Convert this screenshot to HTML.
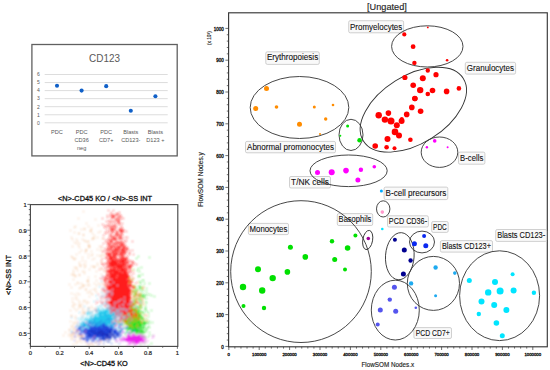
<!DOCTYPE html><html><head><meta charset="utf-8"><style>html,body{margin:0;padding:0;background:#fff;width:550px;height:370px;overflow:hidden}svg{display:block}text{font-family:"Liberation Sans",sans-serif}</style></head><body>
<svg width="550" height="370" viewBox="0 0 550 370">
<rect width="550" height="370" fill="#fff"/>
<rect x="31.9" y="44.5" width="145.3" height="111.4" fill="#fff" stroke="#606060" stroke-width="1.3"/>
<text x="89.1" y="61.8" font-size="10.6" fill="#595959" textLength="30.9" lengthAdjust="spacingAndGlyphs">CD123</text>
<line x1="44.7" x2="167.7" y1="122.80" y2="122.80" stroke="#d9d9d9" stroke-width="0.9"/>
<text x="38.4" y="124.60" font-size="5" fill="#595959" text-anchor="middle">0</text>
<line x1="44.7" x2="167.7" y1="114.75" y2="114.75" stroke="#d9d9d9" stroke-width="0.9"/>
<text x="38.4" y="116.55" font-size="5" fill="#595959" text-anchor="middle">1</text>
<line x1="44.7" x2="167.7" y1="106.70" y2="106.70" stroke="#d9d9d9" stroke-width="0.9"/>
<text x="38.4" y="108.50" font-size="5" fill="#595959" text-anchor="middle">2</text>
<line x1="44.7" x2="167.7" y1="98.65" y2="98.65" stroke="#d9d9d9" stroke-width="0.9"/>
<text x="38.4" y="100.45" font-size="5" fill="#595959" text-anchor="middle">3</text>
<line x1="44.7" x2="167.7" y1="90.60" y2="90.60" stroke="#d9d9d9" stroke-width="0.9"/>
<text x="38.4" y="92.40" font-size="5" fill="#595959" text-anchor="middle">4</text>
<line x1="44.7" x2="167.7" y1="82.55" y2="82.55" stroke="#d9d9d9" stroke-width="0.9"/>
<text x="38.4" y="84.35" font-size="5" fill="#595959" text-anchor="middle">5</text>
<line x1="44.7" x2="167.7" y1="74.50" y2="74.50" stroke="#d9d9d9" stroke-width="0.9"/>
<text x="38.4" y="76.30" font-size="5" fill="#595959" text-anchor="middle">6</text>
<circle cx="57.00" cy="85.77" r="2.05" fill="#1060c8"/>
<text x="57.00" y="134.00" font-size="5.6" fill="#595959" text-anchor="middle">PDC</text>
<circle cx="81.60" cy="90.60" r="2.05" fill="#1060c8"/>
<text x="81.60" y="134.00" font-size="5.6" fill="#595959" text-anchor="middle">PDC</text>
<text x="81.60" y="142.00" font-size="5.6" fill="#595959" text-anchor="middle">CD36</text>
<text x="81.60" y="150.00" font-size="5.6" fill="#595959" text-anchor="middle">neg</text>
<circle cx="106.20" cy="86.17" r="2.05" fill="#1060c8"/>
<text x="106.20" y="134.00" font-size="5.6" fill="#595959" text-anchor="middle">PDC</text>
<text x="106.20" y="142.00" font-size="5.6" fill="#595959" text-anchor="middle">CD7+</text>
<circle cx="130.80" cy="110.72" r="2.05" fill="#1060c8"/>
<text x="130.80" y="134.00" font-size="5.6" fill="#595959" text-anchor="middle">Blasts</text>
<text x="130.80" y="142.00" font-size="5.6" fill="#595959" text-anchor="middle">CD123-</text>
<circle cx="155.40" cy="96.23" r="2.05" fill="#1060c8"/>
<text x="155.40" y="134.00" font-size="5.6" fill="#595959" text-anchor="middle">Blasts</text>
<text x="155.40" y="142.00" font-size="5.6" fill="#595959" text-anchor="middle">D123 +</text>
<text x="367" y="9.5" font-size="9.8" fill="#222" stroke="#222" stroke-width="0.15" textLength="39.8" lengthAdjust="spacingAndGlyphs">[Ungated]</text>
<path d="M228.80 346.80v3.2M234.88 346.80v1.8M240.96 346.80v1.8M247.04 346.80v1.8M253.12 346.80v1.8M259.20 346.80v3.2M265.28 346.80v1.8M271.36 346.80v1.8M277.44 346.80v1.8M283.52 346.80v1.8M289.60 346.80v3.2M295.68 346.80v1.8M301.76 346.80v1.8M307.84 346.80v1.8M313.92 346.80v1.8M320.00 346.80v3.2M326.08 346.80v1.8M332.16 346.80v1.8M338.24 346.80v1.8M344.32 346.80v1.8M350.40 346.80v3.2M356.48 346.80v1.8M362.56 346.80v1.8M368.64 346.80v1.8M374.72 346.80v1.8M380.80 346.80v3.2M386.88 346.80v1.8M392.96 346.80v1.8M399.04 346.80v1.8M405.12 346.80v1.8M411.20 346.80v3.2M417.28 346.80v1.8M423.36 346.80v1.8M429.44 346.80v1.8M435.52 346.80v1.8M441.60 346.80v3.2M447.68 346.80v1.8M453.76 346.80v1.8M459.84 346.80v1.8M465.92 346.80v1.8M472.00 346.80v3.2M478.08 346.80v1.8M484.16 346.80v1.8M490.24 346.80v1.8M496.32 346.80v1.8M502.40 346.80v3.2M508.48 346.80v1.8M514.56 346.80v1.8M520.64 346.80v1.8M526.72 346.80v1.8M532.80 346.80v3.2M228.60 346.40h-3.2M228.60 340.04h-1.8M228.60 333.68h-1.8M228.60 327.32h-1.8M228.60 320.96h-1.8M228.60 314.60h-3.2M228.60 308.24h-1.8M228.60 301.88h-1.8M228.60 295.52h-1.8M228.60 289.16h-1.8M228.60 282.80h-3.2M228.60 276.44h-1.8M228.60 270.08h-1.8M228.60 263.72h-1.8M228.60 257.36h-1.8M228.60 251.00h-3.2M228.60 244.64h-1.8M228.60 238.28h-1.8M228.60 231.92h-1.8M228.60 225.56h-1.8M228.60 219.20h-3.2M228.60 212.84h-1.8M228.60 206.48h-1.8M228.60 200.12h-1.8M228.60 193.76h-1.8M228.60 187.40h-3.2M228.60 181.04h-1.8M228.60 174.68h-1.8M228.60 168.32h-1.8M228.60 161.96h-1.8M228.60 155.60h-3.2M228.60 149.24h-1.8M228.60 142.88h-1.8M228.60 136.52h-1.8M228.60 130.16h-1.8M228.60 123.80h-3.2M228.60 117.44h-1.8M228.60 111.08h-1.8M228.60 104.72h-1.8M228.60 98.36h-1.8M228.60 92.00h-3.2M228.60 85.64h-1.8M228.60 79.28h-1.8M228.60 72.92h-1.8M228.60 66.56h-1.8M228.60 60.20h-3.2M228.60 53.84h-1.8M228.60 47.48h-1.8M228.60 41.12h-1.8M228.60 34.76h-1.8M228.60 28.40h-3.2" stroke="#333" stroke-width="0.7" fill="none"/>
<rect x="228.6" y="12.8" width="318.70" height="334.00" fill="none" stroke="#383838" stroke-width="1.15"/>
<text x="228.80" y="355.6" font-size="4.3" fill="#111" stroke="#111" stroke-width="0.3" text-anchor="middle">0</text>
<text x="259.20" y="355.6" font-size="4.3" fill="#111" stroke="#111" stroke-width="0.3" text-anchor="middle">100000</text>
<text x="289.60" y="355.6" font-size="4.3" fill="#111" stroke="#111" stroke-width="0.3" text-anchor="middle">200000</text>
<text x="320.00" y="355.6" font-size="4.3" fill="#111" stroke="#111" stroke-width="0.3" text-anchor="middle">300000</text>
<text x="350.40" y="355.6" font-size="4.3" fill="#111" stroke="#111" stroke-width="0.3" text-anchor="middle">400000</text>
<text x="380.80" y="355.6" font-size="4.3" fill="#111" stroke="#111" stroke-width="0.3" text-anchor="middle">500000</text>
<text x="411.20" y="355.6" font-size="4.3" fill="#111" stroke="#111" stroke-width="0.3" text-anchor="middle">600000</text>
<text x="441.60" y="355.6" font-size="4.3" fill="#111" stroke="#111" stroke-width="0.3" text-anchor="middle">700000</text>
<text x="472.00" y="355.6" font-size="4.3" fill="#111" stroke="#111" stroke-width="0.3" text-anchor="middle">800000</text>
<text x="502.40" y="355.6" font-size="4.3" fill="#111" stroke="#111" stroke-width="0.3" text-anchor="middle">900000</text>
<text x="532.80" y="355.6" font-size="4.3" fill="#111" stroke="#111" stroke-width="0.3" text-anchor="middle">1000000</text>
<text x="223.8" y="348.50" font-size="4.5" fill="#111" stroke="#111" stroke-width="0.3" text-anchor="end">0</text>
<text x="223.8" y="316.70" font-size="4.5" fill="#111" stroke="#111" stroke-width="0.3" text-anchor="end">100</text>
<text x="223.8" y="284.90" font-size="4.5" fill="#111" stroke="#111" stroke-width="0.3" text-anchor="end">200</text>
<text x="223.8" y="253.10" font-size="4.5" fill="#111" stroke="#111" stroke-width="0.3" text-anchor="end">300</text>
<text x="223.8" y="221.30" font-size="4.5" fill="#111" stroke="#111" stroke-width="0.3" text-anchor="end">400</text>
<text x="223.8" y="189.50" font-size="4.5" fill="#111" stroke="#111" stroke-width="0.3" text-anchor="end">500</text>
<text x="223.8" y="157.70" font-size="4.5" fill="#111" stroke="#111" stroke-width="0.3" text-anchor="end">600</text>
<text x="223.8" y="125.90" font-size="4.5" fill="#111" stroke="#111" stroke-width="0.3" text-anchor="end">700</text>
<text x="223.8" y="94.10" font-size="4.5" fill="#111" stroke="#111" stroke-width="0.3" text-anchor="end">800</text>
<text x="223.8" y="62.30" font-size="4.5" fill="#111" stroke="#111" stroke-width="0.3" text-anchor="end">900</text>
<text x="223.8" y="30.50" font-size="4.5" fill="#111" stroke="#111" stroke-width="0.3" text-anchor="end">1000</text>
<text x="361.5" y="366.7" font-size="7.3" fill="#222" stroke="#222" stroke-width="0.15" textLength="52.6" lengthAdjust="spacingAndGlyphs">FlowSOM Nodes.x</text>
<text transform="translate(203.2,179.6) rotate(-90)" font-size="6.6" fill="#222" stroke="#222" stroke-width="0.15" text-anchor="middle">FlowSOM Nodes.y</text>
<text transform="translate(211,38.2) rotate(-90)" font-size="4.8" fill="#222" stroke="#222" stroke-width="0.15" text-anchor="middle">(x 10³)</text>
<rect x="265.8" y="51.8" width="53.50" height="12.60" rx="1.5" fill="#f9f9f9" stroke="#bdbdbd" stroke-width="0.7"/>
<text x="266.90" y="60.4" font-size="8.4" fill="#111" stroke="#111" stroke-width="0.1" textLength="51.3" lengthAdjust="spacingAndGlyphs">Erythropoiesis</text>
<rect x="348.7" y="20.7" width="54.90" height="12.10" rx="1.5" fill="#f9f9f9" stroke="#bdbdbd" stroke-width="0.7"/>
<text x="350.05" y="29.6" font-size="8.4" fill="#111" stroke="#111" stroke-width="0.1" textLength="52.2" lengthAdjust="spacingAndGlyphs">Promyelocytes</text>
<rect x="465.3" y="62.3" width="50.30" height="11.80" rx="1.5" fill="#f9f9f9" stroke="#bdbdbd" stroke-width="0.7"/>
<text x="466.85" y="71.3" font-size="8.4" fill="#111" stroke="#111" stroke-width="0.1" textLength="47.2" lengthAdjust="spacingAndGlyphs">Granulocytes</text>
<rect x="245.5" y="141.4" width="90.00" height="11.40" rx="1.5" fill="#f9f9f9" stroke="#bdbdbd" stroke-width="0.7"/>
<text x="247.05" y="149.6" font-size="8.4" fill="#111" stroke="#111" stroke-width="0.1" textLength="86.9" lengthAdjust="spacingAndGlyphs">Abnormal promonocytes</text>
<rect x="289.5" y="176.5" width="41.00" height="11.50" rx="1.5" fill="#f9f9f9" stroke="#bdbdbd" stroke-width="0.7"/>
<text x="291.10" y="185.4" font-size="8.4" fill="#111" stroke="#111" stroke-width="0.1" textLength="37.8" lengthAdjust="spacingAndGlyphs">T/NK cells</text>
<rect x="458.5" y="152.1" width="26.40" height="12.10" rx="1.5" fill="#f9f9f9" stroke="#bdbdbd" stroke-width="0.7"/>
<text x="460.10" y="161.3" font-size="8.4" fill="#111" stroke="#111" stroke-width="0.1" textLength="23.2" lengthAdjust="spacingAndGlyphs">B-cells</text>
<rect x="384.1" y="187.1" width="63.70" height="12.50" rx="1.5" fill="#f9f9f9" stroke="#bdbdbd" stroke-width="0.7"/>
<text x="385.60" y="196.2" font-size="8.4" fill="#111" stroke="#111" stroke-width="0.1" textLength="60.7" lengthAdjust="spacingAndGlyphs">B-cell precursors</text>
<rect x="248.4" y="223.4" width="40.10" height="11.20" rx="1.5" fill="#f9f9f9" stroke="#bdbdbd" stroke-width="0.7"/>
<text x="249.55" y="232.0" font-size="8.4" fill="#111" stroke="#111" stroke-width="0.1" textLength="37.8" lengthAdjust="spacingAndGlyphs">Monocytes</text>
<rect x="337.3" y="213.6" width="35.40" height="11.90" rx="1.5" fill="#f9f9f9" stroke="#bdbdbd" stroke-width="0.7"/>
<text x="338.60" y="222.3" font-size="8.4" fill="#111" stroke="#111" stroke-width="0.1" textLength="32.8" lengthAdjust="spacingAndGlyphs">Basophils</text>
<rect x="387.5" y="215.8" width="40.90" height="11.20" rx="1.5" fill="#f9f9f9" stroke="#bdbdbd" stroke-width="0.7"/>
<text x="388.85" y="223.8" font-size="8.4" fill="#111" stroke="#111" stroke-width="0.1" textLength="38.2" lengthAdjust="spacingAndGlyphs">PCD CD36-</text>
<rect x="431.7" y="221.5" width="16.50" height="10.90" rx="1.5" fill="#f9f9f9" stroke="#bdbdbd" stroke-width="0.7"/>
<text x="433.10" y="229.6" font-size="8.4" fill="#111" stroke="#111" stroke-width="0.1" textLength="13.7" lengthAdjust="spacingAndGlyphs">PDC</text>
<rect x="440.4" y="240.6" width="52.10" height="11.50" rx="1.5" fill="#f9f9f9" stroke="#bdbdbd" stroke-width="0.7"/>
<text x="441.95" y="249.2" font-size="8.4" fill="#111" stroke="#111" stroke-width="0.1" textLength="49" lengthAdjust="spacingAndGlyphs">Blasts CD123+</text>
<rect x="495.7" y="229.5" width="51.00" height="11.90" rx="1.5" fill="#f9f9f9" stroke="#bdbdbd" stroke-width="0.7"/>
<text x="497.20" y="238.4" font-size="8.4" fill="#111" stroke="#111" stroke-width="0.1" textLength="48" lengthAdjust="spacingAndGlyphs">Blasts CD123-</text>
<rect x="413.9" y="327.6" width="37.60" height="10.90" rx="1.5" fill="#f9f9f9" stroke="#bdbdbd" stroke-width="0.7"/>
<text x="415.75" y="336.2" font-size="8.4" fill="#111" stroke="#111" stroke-width="0.1" textLength="33.9" lengthAdjust="spacingAndGlyphs">PCD CD7+</text>
<ellipse cx="299.5" cy="107.5" rx="49.3" ry="31" fill="none" stroke="#333" stroke-width="0.9"/>
<ellipse cx="427.3" cy="46.4" rx="35.7" ry="20.6" fill="none" stroke="#333" stroke-width="0.9"/>
<ellipse cx="413.35" cy="109.7" rx="58.9" ry="33.9" transform="rotate(-32 413.35 109.7)" fill="none" stroke="#333" stroke-width="0.9"/>
<ellipse cx="351" cy="134.9" rx="12" ry="15.6" fill="none" stroke="#333" stroke-width="0.9"/>
<ellipse cx="348.6" cy="170.8" rx="38.6" ry="15.8" fill="none" stroke="#333" stroke-width="0.9"/>
<ellipse cx="439.5" cy="152.2" rx="18.3" ry="15.2" fill="none" stroke="#333" stroke-width="0.9"/>
<ellipse cx="301" cy="271.6" rx="70.3" ry="70.9" fill="none" stroke="#333" stroke-width="0.9"/>
<ellipse cx="367.7" cy="240" rx="4.9" ry="9.7" transform="rotate(10 367.7 240)" fill="none" stroke="#333" stroke-width="0.9"/>
<ellipse cx="383.2" cy="208.9" rx="6.7" ry="8.1" fill="none" stroke="#333" stroke-width="0.9"/>
<ellipse cx="422" cy="242" rx="12.5" ry="10.9" fill="none" stroke="#333" stroke-width="0.9"/>
<ellipse cx="399.8" cy="256.2" rx="14.3" ry="23.6" transform="rotate(4 399.8 256.2)" fill="none" stroke="#333" stroke-width="0.9"/>
<ellipse cx="433.4" cy="283.4" rx="26.1" ry="27" fill="none" stroke="#333" stroke-width="0.9"/>
<ellipse cx="395.3" cy="310.1" rx="24" ry="29.9" fill="none" stroke="#333" stroke-width="0.9"/>
<ellipse cx="499.6" cy="295.7" rx="40" ry="44.9" fill="none" stroke="#333" stroke-width="0.9"/>
<circle cx="266.5" cy="88.4" r="2.5" fill="#ff8c00"/>
<circle cx="255.7" cy="108.6" r="2.5" fill="#ff8c00"/>
<circle cx="276.5" cy="107" r="1.8" fill="#ff8c00"/>
<circle cx="314.3" cy="107" r="1.5" fill="#ff8c00"/>
<circle cx="333" cy="105" r="1.3" fill="#ff8c00"/>
<circle cx="299.5" cy="124.3" r="2.5" fill="#ff8c00"/>
<circle cx="325.7" cy="119" r="1.7" fill="#ff8c00"/>
<circle cx="320" cy="134" r="1" fill="#ff8c00"/>
<circle cx="404.3" cy="34.4" r="2.1" fill="#ff0000"/>
<circle cx="413.1" cy="46.7" r="2.4" fill="#ff0000"/>
<circle cx="427.8" cy="27.4" r="0.9" fill="#ff0000"/>
<circle cx="414.4" cy="62.9" r="2.2" fill="#ff0000"/>
<circle cx="447.1" cy="60.3" r="1.3" fill="#ff0000"/>
<circle cx="427.8" cy="70.5" r="2.2" fill="#ff0000"/>
<circle cx="436" cy="74.7" r="2.6" fill="#ff0000"/>
<circle cx="404.9" cy="77.5" r="2.6" fill="#ff0000"/>
<circle cx="422.8" cy="78.2" r="3" fill="#ff0000"/>
<circle cx="413.2" cy="85.2" r="2.8" fill="#ff0000"/>
<circle cx="420.2" cy="90.1" r="3.2" fill="#ff0000"/>
<circle cx="432.5" cy="90.5" r="2.8" fill="#ff0000"/>
<circle cx="427.8" cy="94" r="2.3" fill="#ff0000"/>
<circle cx="446.6" cy="91.4" r="2.8" fill="#ff0000"/>
<circle cx="458.9" cy="88.4" r="2.3" fill="#ff0000"/>
<circle cx="415" cy="98.6" r="2.6" fill="#ff0000"/>
<circle cx="411.8" cy="107.4" r="2.8" fill="#ff0000"/>
<circle cx="420.6" cy="111.2" r="2.8" fill="#ff0000"/>
<circle cx="406.7" cy="114.4" r="2.8" fill="#ff0000"/>
<circle cx="401.8" cy="119" r="2" fill="#ff0000"/>
<circle cx="414.8" cy="98.5" r="2.8" fill="#ff0000"/>
<circle cx="378.7" cy="115.2" r="3.2" fill="#ff0000"/>
<circle cx="388.4" cy="113.1" r="2.8" fill="#ff0000"/>
<circle cx="384.9" cy="119.6" r="3.2" fill="#ff0000"/>
<circle cx="391" cy="121" r="3.5" fill="#ff0000"/>
<circle cx="401.6" cy="121" r="3" fill="#ff0000"/>
<circle cx="396.8" cy="125.2" r="3" fill="#ff0000"/>
<circle cx="395" cy="131.9" r="3.3" fill="#ff0000"/>
<circle cx="399" cy="135.4" r="3" fill="#ff0000"/>
<circle cx="387.5" cy="138.9" r="3" fill="#ff0000"/>
<circle cx="410.4" cy="139.8" r="2.3" fill="#ff0000"/>
<circle cx="375.2" cy="146" r="2.8" fill="#ff0000"/>
<circle cx="386.6" cy="147.2" r="2.3" fill="#ff0000"/>
<circle cx="394.5" cy="148.3" r="2" fill="#ff0000"/>
<circle cx="347.6" cy="126" r="1.5" fill="#00e000"/>
<circle cx="340.3" cy="135.7" r="1" fill="#00e000"/>
<circle cx="359.5" cy="140.3" r="2.2" fill="#00e000"/>
<circle cx="243" cy="287" r="3.2" fill="#00e000"/>
<circle cx="243.5" cy="306" r="2" fill="#00e000"/>
<circle cx="258" cy="269.2" r="3" fill="#00e000"/>
<circle cx="262.2" cy="290.5" r="3.2" fill="#00e000"/>
<circle cx="264" cy="308" r="2.2" fill="#00e000"/>
<circle cx="272.7" cy="278.1" r="3.2" fill="#00e000"/>
<circle cx="287.4" cy="271.9" r="2.8" fill="#00e000"/>
<circle cx="290.4" cy="247.3" r="2.5" fill="#00e000"/>
<circle cx="305.3" cy="256.9" r="2.8" fill="#00e000"/>
<circle cx="332" cy="241.3" r="2.2" fill="#00e000"/>
<circle cx="334.7" cy="259.6" r="2.5" fill="#00e000"/>
<circle cx="345" cy="269.4" r="2" fill="#00e000"/>
<circle cx="347.6" cy="248" r="2.8" fill="#00e000"/>
<circle cx="355.4" cy="235.5" r="2" fill="#00e000"/>
<circle cx="317.5" cy="172.4" r="2.5" fill="#ff00ff"/>
<circle cx="331.7" cy="172.2" r="3" fill="#ff00ff"/>
<circle cx="346" cy="170.6" r="2.8" fill="#ff00ff"/>
<circle cx="360.9" cy="169.8" r="2.2" fill="#ff00ff"/>
<circle cx="374.3" cy="166.7" r="1.8" fill="#ff00ff"/>
<circle cx="357.9" cy="180.1" r="2.5" fill="#ff00ff"/>
<circle cx="434.7" cy="140.9" r="1.8" fill="#ff00ff"/>
<circle cx="426.9" cy="147.3" r="1.2" fill="#ff00ff"/>
<circle cx="447.6" cy="147.3" r="1" fill="#ff00ff"/>
<circle cx="368.3" cy="238.5" r="1.8" fill="#a0009a"/>
<circle cx="382.3" cy="212.1" r="1.8" fill="#ff99cc"/>
<circle cx="381.4" cy="191" r="1.5" fill="#00aaff"/>
<circle cx="435.6" cy="267.5" r="2.2" fill="#1eaaf0"/>
<circle cx="454.8" cy="273.1" r="1.8" fill="#1eaaf0"/>
<circle cx="411.1" cy="283.4" r="2.2" fill="#1eaaf0"/>
<circle cx="435.6" cy="295.8" r="1.5" fill="#1eaaf0"/>
<circle cx="382.3" cy="229" r="1.3" fill="#00e5ff"/>
<circle cx="469.3" cy="280.5" r="2.5" fill="#00e5ff"/>
<circle cx="512.6" cy="274.3" r="2" fill="#00e5ff"/>
<circle cx="495" cy="281.9" r="3" fill="#00e5ff"/>
<circle cx="488.2" cy="292.4" r="3.2" fill="#00e5ff"/>
<circle cx="500.1" cy="291.1" r="3.5" fill="#00e5ff"/>
<circle cx="513.6" cy="290.5" r="3" fill="#00e5ff"/>
<circle cx="533.9" cy="292.7" r="2.2" fill="#00e5ff"/>
<circle cx="481.5" cy="301.4" r="3" fill="#00e5ff"/>
<circle cx="494.2" cy="305.1" r="3" fill="#00e5ff"/>
<circle cx="506.4" cy="310" r="3" fill="#00e5ff"/>
<circle cx="478.8" cy="314" r="2.2" fill="#00e5ff"/>
<circle cx="496.4" cy="323" r="2.8" fill="#00e5ff"/>
<circle cx="502.3" cy="335.7" r="2.5" fill="#00e5ff"/>
<circle cx="424.1" cy="236.1" r="2" fill="#0a28f0"/>
<circle cx="414.4" cy="243.7" r="2.5" fill="#0a28f0"/>
<circle cx="425.8" cy="245.8" r="2.5" fill="#0a28f0"/>
<circle cx="394.9" cy="239.8" r="2" fill="#000090"/>
<circle cx="404.3" cy="250" r="2.5" fill="#000090"/>
<circle cx="410.6" cy="260.5" r="2.2" fill="#000090"/>
<circle cx="403.4" cy="273.9" r="2.5" fill="#000090"/>
<circle cx="394.4" cy="287.3" r="2.5" fill="#5555ee"/>
<circle cx="389.8" cy="299.6" r="2.2" fill="#5555ee"/>
<circle cx="380.3" cy="309.9" r="2.5" fill="#5555ee"/>
<circle cx="395.7" cy="311.2" r="2.5" fill="#5555ee"/>
<circle cx="377.7" cy="324.6" r="2" fill="#5555ee"/>
<circle cx="415.8" cy="307.8" r="1.3" fill="#5555ee"/>
<text x="58" y="201.2" font-size="7.3" fill="#111" stroke="#111" stroke-width="0.3" textLength="94" lengthAdjust="spacingAndGlyphs">&lt;N&gt;-CD45 KO / &lt;N&gt;-SS INT</text>
<text x="104" y="366" font-size="7.3" fill="#111" stroke="#111" stroke-width="0.3" text-anchor="middle">&lt;N&gt;-CD45 KO</text>
<text transform="translate(11,275) rotate(-90)" font-size="7.3" fill="#111" stroke="#111" stroke-width="0.3" text-anchor="middle">&lt;N&gt;-SS INT</text>
<filter id="bl" x="-5%" y="-5%" width="110%" height="110%"><feGaussianBlur stdDeviation="0.8"/></filter><g filter="url(#bl)" transform="translate(0,0.5)" stroke-width="1">
<path d="M83 211h1m-6 7h1m16 1h1m-10 4h1m11 2h1m-24 1h1m12 0h1m-15 1h1m9 1h1m6 0h1m-11 1h1m2 0h1m-15 1h1m19 0h1m0 0h1m-2 1h1m9 0h1m-27 1h1m23 0h1m-21 1h1m0 0h1m12 0h1m-10 1h1m-1 1h1m10 0h1m-24 2h1m21 0h1m3 0h1m-6 1h1m1 0h1m7 0h1m-31 1h1m3 0h1m5 0h1m9 0h1m-9 1h1m-8 1h1m7 0h1m1 0h1m0 0h1m-15 1h1m1 1h1m2 0h1m8 1h1m-11 1h1m10 0h1m-18 1h1m15 0h1m0 0h1m9 0h1m-21 1h1m9 0h1m11 1h1m-16 1h1m10 0h1m-17 1h1m3 0h1m0 0h1m13 0h1m-10 1h1m-13 1h1m5 0h1m-10 2h1m11 0h1m3 0h1m9 0h1m-12 1h1m5 0h1m2 0h1m2 0h1m-33 1h1m28 0h1m-29 1h1m9 0h1m5 0h1m-16 1h1m1 0h1m18 0h1m-21 1h1m17 0h1m-11 1h1m2 1h1m15 0h1m-23 1h1m17 1h1m-19 1h1m3 0h1m1 0h1m-6 1h1m16 0h1m-18 1h1m4 0h1m5 0h1m1 0h1m0 0h1m-21 1h1m1 0h1m7 0h1m9 0h1m5 0h1m-25 1h1m12 1h1m11 0h1m-29 1h1m3 0h1m4 1h1m1 0h1m11 0h1m7 0h1m-32 1h1m10 1h1m-14 1h1m1 0h1m5 0h1m21 0h1m-29 1h1m1 0h1m3 0h1m-5 1h1m19 0h1m-8 1h1m-16 2h1m13 1h1m0 0h1m7 0h1m-10 1h1m-11 1h1m24 0h1m-25 1h1m2 0h1m6 0h1m5 0h1m3 0h1m-30 1h1m5 0h1m24 0h1m-19 1h1m0 0h1m0 0h1m2 0h1m1 0h1m6 0h1m7 1h1m-34 1h1m8 0h1m1 0h1m-4 1h1m15 0h1m-11 1h1m0 0h1m6 0h1m-4 1h1m4 0h1m6 1h1m-16 1h1m1 0h1m6 0h1m-26 1h1m5 0h1m13 0h1m-18 1h1m4 0h1m12 0h1m-17 2h1m12 0h1m-18 2h1m2 0h1m1 1h1m6 1h1m-13 1h1m6 0h1m3 0h1m2 0h1m1 1h1m-16 1h1m5 0h1m6 0h1m-12 1h1m6 0h1m-10 1h1m5 0h1m0 0h1m-9 1h1m6 0h1m11 0h1m-11 1h1m6 0h1m-15 1h1m3 0h1m4 0h1m5 0h1m2 0h1m2 0h1m-26 2h1m5 0h1m5 0h1m3 0h1m-4 1h1m5 0h1m2 0h1m-9 1h1m-4 1h1m1 0h1m0 0h1m-14 2h1m20 0h1m-22 1h1m3 0h1m6 0h1m-8 2h1m-6 3h1m5 0h1m-4 1h1m12 0h1m-13 1h1m1 0h1m-6 2h1m1 0h1m4 0h1m-8 2h1m1 0h1m-5 2h1m3 0h1m0 0h1m1 0h1m-8 1h1m3 1h1m2 0h1m0 0h1m0 0h1m6 0h1m-21 1h1m3 1h1m2 0h1m0 0h1m0 0h1m-4 1h1m6 0h1m-16 1h1m4 0h1m2 0h1m2 0h1m2 0h1m0 0h1m1 0h1m0 0h1m1 0h1m-14 1h1m1 0h1m7 0h1m0 0h1m0 0h1m11 0h1m-17 1h1m-7 1h1m2 0h1m17 0h1m-23 1h1m8 0h1m-1 1h1m-5 1h1m1 0h1m5 0h1m15 0h1m-20 1h1m14 0h1m3 0h1m-25 1h1m9 0h1m4 0h1m-19 1h1m15 0h1m2 0h1m-6 1h1m1 0h1m3 0h1m3 0h1" stroke="#f2b27c"/>
<path d="M138 256h1m10 1h1m-14 1h1m4 9h1m-4 1h1m-6 1h1m3 1h1m1 1h1m2 3h1m-4 1h1m-2 1h1m0 0h1m-11 2h1m2 1h1m9 1h1m0 0h1m-5 1h1m-11 1h1m10 0h1m-1 1h1m3 0h1m4 0h1m-17 2h1m1 1h1m2 0h1m0 0h1m0 0h1m2 0h1m-9 1h1m4 0h1m0 0h1m-2 1h1m5 0h1m-12 1h1m0 0h1m1 0h1m0 0h1m2 0h1m-10 1h1m0 0h1m1 0h1m4 0h1m1 0h1m-12 1h1m3 0h1m9 0h1m-14 1h1m1 0h1m4 0h1m-6 1h1m0 0h1m5 0h1m-11 1h1m1 0h1m4 0h1m2 0h1m2 0h1m1 0h1m1 0h1m-16 1h1m0 0h1m2 0h1m1 0h1m0 0h1m1 0h1m1 0h1m5 0h1m-11 1h1m0 0h1m0 0h1m0 0h1m9 0h1m-20 1h1m2 0h1m1 0h1m2 0h1m-12 1h1m2 0h1m3 0h1m4 0h1m1 0h1m-14 1h1m3 0h1m0 0h1m2 0h1m-8 1h1m0 0h1m3 0h1m0 0h1m-8 1h1m6 0h1m1 0h1m-9 1h1m0 0h1m2 0h1m6 0h1m0 0h1m-14 1h1m7 0h1m-11 1h1m1 0h1m1 0h1m4 0h1m0 0h1m-7 1h1m9 0h1m-15 1h1m2 0h1m1 0h1m0 0h1m0 0h1m0 0h1m0 0h1m0 0h1m-12 1h1m1 0h1m5 0h1m2 0h1m3 0h1m-16 1h1m1 0h1m0 0h1m0 0h1m0 0h1m2 0h1m2 0h1m3 0h1m-13 1h1m0 0h1m2 0h1m0 0h1m0 0h1m5 0h1m-12 1h1m0 0h1m0 0h1m1 0h1m6 0h1m5 0h1m-22 1h1m2 0h1m0 0h1m2 0h1m0 0h1m0 0h1m0 0h1m0 0h1m5 0h1m-16 1h1m1 0h1m1 0h1m0 0h1m0 0h1m2 0h1m0 0h1m0 0h1m-17 1h1m1 0h1m6 0h1m0 0h1m0 0h1m0 0h1m4 0h1m3 0h1m-27 1h1m6 0h1m3 0h1m5 0h1m0 0h1m-15 1h1m2 0h1m3 0h1m0 0h1m2 0h1m0 0h1m0 0h1m0 0h1m0 0h1m1 0h1m-20 1h1m9 0h1m2 0h1m0 0h1m0 0h1m0 0h1m7 0h1m-20 1h1m0 0h1m0 0h1m1 0h1m2 0h1m1 0h1m1 0h1m0 0h1m0 0h1m-15 1h1m0 0h1m3 0h1m0 0h1m0 0h1m0 0h1m1 0h1m1 0h1m0 0h1m0 0h1m0 0h1m2 0h1m-23 1h1m2 0h1m0 0h1m1 0h1m1 0h1m0 0h1m1 0h1m0 0h1m0 0h1m1 0h1m2 0h1m1 0h1m-23 1h1m0 0h1m1 0h1m1 0h1m0 0h1m0 0h1m2 0h1m1 0h1m0 0h1m0 0h1m1 0h1m0 0h1m0 0h1m1 0h1m4 0h1m-30 1h1m8 0h1m2 0h1m0 0h1m0 0h1m0 0h1m0 0h1m1 0h1m0 0h1m0 0h1m0 0h1m0 0h1m2 0h1m0 0h1m4 0h1m-32 1h1m4 0h1m1 0h1m0 0h1m0 0h1m0 0h1m1 0h1m0 0h1m1 0h1m0 0h1m0 0h1m0 0h1m0 0h1m0 0h1m0 0h1m0 0h1m1 0h1m0 0h1m0 0h1m0 0h1m0 0h1m0 0h1m4 0h1m-34 1h1m5 0h1m0 0h1m1 0h1m0 0h1m0 0h1m0 0h1m0 0h1m0 0h1m0 0h1m0 0h1m0 0h1m0 0h1m0 0h1m0 0h1m0 0h1m0 0h1m1 0h1m0 0h1m0 0h1m1 0h1m1 0h1m-27 1h1m2 0h1m1 0h1m1 0h1m0 0h1m0 0h1m0 0h1m0 0h1m0 0h1m0 0h1m1 0h1m0 0h1m0 0h1m0 0h1m0 0h1m0 0h1m0 0h1m-22 1h1m3 0h1m0 0h1m0 0h1m2 0h1m0 0h1m0 0h1m0 0h1m0 0h1m0 0h1m0 0h1m0 0h1m0 0h1m0 0h1m2 0h1m-16 1h1m0 0h1m0 0h1m0 0h1m0 0h1m0 0h1m0 0h1m1 0h1m0 0h1m0 0h1m0 0h1m0 0h1m1 0h1m0 0h1m3 0h1m-21 1h1m0 0h1m0 0h1m0 0h1m1 0h1m0 0h1m0 0h1m0 0h1m0 0h1m1 0h1m0 0h1m1 0h1m0 0h1m3 0h1m1 0h1m-26 1h1m1 0h1m0 0h1m0 0h1m0 0h1m0 0h1m0 0h1m0 0h1m0 0h1m0 0h1m0 0h1m0 0h1m0 0h1m1 0h1m0 0h1m0 0h1m0 0h1m0 0h1m0 0h1m1 0h1m-20 1h1m0 0h1m0 0h1m1 0h1m0 0h1m0 0h1m0 0h1m0 0h1m0 0h1m0 0h1m0 0h1m0 0h1m0 0h1m5 0h1m-28 1h1m11 0h1m0 0h1m0 0h1m1 0h1m0 0h1m0 0h1m0 0h1m1 0h1m0 0h1m0 0h1m0 0h1m2 0h1m-21 1h1m0 0h1m0 0h1m2 0h1m0 0h1m1 0h1m0 0h1m0 0h1m0 0h1m0 0h1m0 0h1m0 0h1m0 0h1m0 0h1m0 0h1m1 0h1m-16 1h1m0 0h1m0 0h1m2 0h1m0 0h1m0 0h1m0 0h1m0 0h1m0 0h1m0 0h1m0 0h1m0 0h1m1 0h1m3 0h1m-25 1h1m3 0h1m6 0h1m2 0h1m0 0h1m1 0h1m0 0h1m-19 1h1m8 0h1m1 0h1m0 0h1m-8 1h1m10 0h1m1 0h1m5 0h1m2 0h1m-27 1h1m14 0h1m3 0h1m-2 1h1m2 0h1m-3 4h1m-13 1h1m7 1h1m2 0h1m6 0h1m-12 2h1m7 0h1" stroke="#20e020"/>
<path d="M108 210h1m4 0h1m-3 2h1m7 0h1m-4 1h1m1 0h1m-9 1h1m0 0h1m1 0h1m2 0h1m0 0h1m-11 1h1m4 0h1m1 0h1m1 0h1m2 0h1m0 0h1m-11 1h1m1 0h1m0 0h1m0 0h1m4 0h1m1 0h1m-15 1h1m3 0h1m0 0h1m0 0h1m3 0h1m0 0h1m-17 1h1m12 0h1m2 0h1m1 0h1m0 0h1m1 0h1m-12 1h1m2 0h1m0 0h1m1 0h1m-9 1h1m5 0h1m1 0h1m0 0h1m-14 1h1m1 0h1m0 0h1m2 0h1m1 0h1m2 0h1m0 0h1m-8 1h1m2 0h1m3 0h1m0 0h1m-10 1h1m5 0h1m2 0h1m2 0h1m-21 1h1m5 0h1m5 0h1m3 0h1m1 0h1m-17 1h1m2 0h1m1 0h1m1 0h1m1 0h1m1 0h1m-11 1h1m1 0h1m3 0h1m1 0h1m0 0h1m1 0h1m4 0h1m-18 1h1m4 0h1m0 0h1m1 0h1m2 0h1m5 0h1m-12 1h1m1 0h1m0 0h1m1 0h1m3 0h1m2 0h1m-17 1h1m4 0h1m0 0h1m0 0h1m1 0h1m3 0h1m0 0h1m1 0h1m-15 1h1m1 0h1m0 0h1m0 0h1m1 0h1m4 0h1m0 0h1m0 0h1m0 0h1m1 0h1m-13 1h1m3 0h1m0 0h1m2 0h1m0 0h1m0 0h1m0 0h1m2 0h1m-22 1h1m1 0h1m1 0h1m2 0h1m0 0h1m2 0h1m0 0h1m3 0h1m-17 1h1m5 0h1m4 0h1m1 0h1m1 0h1m1 0h1m-13 1h1m4 0h1m0 0h1m0 0h1m3 0h1m-19 1h1m5 0h1m1 0h1m3 0h1m1 0h1m0 0h1m0 0h1m0 0h1m1 0h1m-13 1h1m1 0h1m0 0h1m0 0h1m2 0h1m2 0h1m-11 1h1m1 0h1m2 0h1m3 0h1m0 0h1m0 0h1m3 0h1m1 0h1m-25 1h1m4 0h1m3 0h1m0 0h1m0 0h1m0 0h1m1 0h1m1 0h1m0 0h1m1 0h1m-14 1h1m1 0h1m1 0h1m0 0h1m0 0h1m0 0h1m2 0h1m2 0h1m-18 1h1m1 0h1m0 0h1m1 0h1m0 0h1m0 0h1m2 0h1m10 0h1m-17 1h1m0 0h1m5 0h1m2 0h1m0 0h1m2 0h1m0 0h1m6 0h1m-27 1h1m1 0h1m1 0h1m0 0h1m2 0h1m1 0h1m0 0h1m0 0h1m0 0h1m1 0h1m0 0h1m-20 1h1m3 0h1m0 0h1m1 0h1m1 0h1m0 0h1m0 0h1m0 0h1m0 0h1m0 0h1m1 0h1m0 0h1m1 0h1m0 0h1m-16 1h1m0 0h1m9 0h1m1 0h1m0 0h1m1 0h1m-16 1h1m0 0h1m1 0h1m0 0h1m0 0h1m0 0h1m0 0h1m0 0h1m2 0h1m0 0h1m0 0h1m0 0h1m1 0h1m-25 1h1m5 0h1m0 0h1m1 0h1m0 0h1m0 0h1m1 0h1m2 0h1m0 0h1m0 0h1m0 0h1m0 0h1m1 0h1m0 0h1m-16 1h1m1 0h1m0 0h1m1 0h1m1 0h1m1 0h1m0 0h1m3 0h1m0 0h1m0 0h1m1 0h1m-24 1h1m2 0h1m0 0h1m1 0h1m0 0h1m2 0h1m0 0h1m0 0h1m0 0h1m0 0h1m0 0h1m0 0h1m0 0h1m0 0h1m0 0h1m0 0h1m1 0h1m0 0h1m-21 1h1m0 0h1m1 0h1m0 0h1m1 0h1m1 0h1m0 0h1m1 0h1m3 0h1m0 0h1m1 0h1m0 0h1m0 0h1m-23 1h1m0 0h1m1 0h1m0 0h1m1 0h1m1 0h1m0 0h1m0 0h1m0 0h1m0 0h1m0 0h1m0 0h1m0 0h1m0 0h1m0 0h1m0 0h1m0 0h1m4 0h1m2 0h1m-31 1h1m0 0h1m7 0h1m0 0h1m0 0h1m0 0h1m1 0h1m1 0h1m2 0h1m0 0h1m0 0h1m0 0h1m0 0h1m0 0h1m-21 1h1m1 0h1m0 0h1m2 0h1m1 0h1m0 0h1m0 0h1m0 0h1m1 0h1m0 0h1m1 0h1m0 0h1m1 0h1m3 0h1m-24 1h1m0 0h1m1 0h1m0 0h1m0 0h1m0 0h1m0 0h1m0 0h1m1 0h1m0 0h1m1 0h1m0 0h1m0 0h1m0 0h1m1 0h1m0 0h1m3 0h1m-25 1h1m1 0h1m0 0h1m0 0h1m0 0h1m2 0h1m0 0h1m0 0h1m0 0h1m0 0h1m2 0h1m0 0h1m0 0h1m0 0h1m0 0h1m4 0h1m3 0h1m-27 1h1m0 0h1m0 0h1m0 0h1m1 0h1m0 0h1m0 0h1m0 0h1m0 0h1m1 0h1m0 0h1m0 0h1m1 0h1m-14 1h1m0 0h1m0 0h1m1 0h1m0 0h1m6 0h1m0 0h1m0 0h1m2 0h1m0 0h1m-23 1h1m0 0h1m0 0h1m1 0h1m0 0h1m0 0h1m0 0h1m0 0h1m0 0h1m0 0h1m0 0h1m2 0h1m0 0h1m1 0h1m0 0h1m0 0h1m-23 1h1m3 0h1m2 0h1m0 0h1m0 0h1m0 0h1m1 0h1m0 0h1m0 0h1m3 0h1m0 0h1m0 0h1m1 0h1m0 0h1m0 0h1m0 0h1m-20 1h1m0 0h1m0 0h1m0 0h1m0 0h1m0 0h1m1 0h1m1 0h1m0 0h1m0 0h1m1 0h1m0 0h1m0 0h1m0 0h1m0 0h1m0 0h1m0 0h1m-27 1h1m5 0h1m0 0h1m2 0h1m0 0h1m0 0h1m0 0h1m0 0h1m0 0h1m0 0h1m0 0h1m0 0h1m0 0h1m0 0h1m0 0h1m0 0h1m0 0h1m0 0h1m3 0h1m-22 1h1m1 0h1m0 0h1m0 0h1m0 0h1m0 0h1m0 0h1m0 0h1m1 0h1m1 0h1m0 0h1m0 0h1m0 0h1m0 0h1m1 0h1m0 0h1m1 0h1m1 0h1m0 0h1m-26 1h1m0 0h1m0 0h1m0 0h1m0 0h1m0 0h1m0 0h1m0 0h1m0 0h1m0 0h1m0 0h1m0 0h1m0 0h1m0 0h1m0 0h1m0 0h1m0 0h1m0 0h1m0 0h1m0 0h1m0 0h1m0 0h1m3 0h1m0 0h1m-33 1h1m0 0h1m2 0h1m0 0h1m2 0h1m0 0h1m0 0h1m0 0h1m0 0h1m0 0h1m0 0h1m0 0h1m0 0h1m1 0h1m0 0h1m1 0h1m0 0h1m0 0h1m1 0h1m0 0h1m6 0h1m-32 1h1m2 0h1m1 0h1m0 0h1m0 0h1m0 0h1m0 0h1m0 0h1m0 0h1m0 0h1m0 0h1m0 0h1m0 0h1m0 0h1m0 0h1m0 0h1m0 0h1m0 0h1m0 0h1m0 0h1m3 0h1m1 0h1m0 0h1m3 0h1m-34 1h1m4 0h1m1 0h1m0 0h1m0 0h1m0 0h1m0 0h1m0 0h1m0 0h1m0 0h1m0 0h1m0 0h1m0 0h1m0 0h1m0 0h1m0 0h1m0 0h1m0 0h1m0 0h1m0 0h1m1 0h1m0 0h1m1 0h1m-26 1h1m0 0h1m0 0h1m0 0h1m0 0h1m0 0h1m0 0h1m0 0h1m1 0h1m0 0h1m0 0h1m0 0h1m0 0h1m0 0h1m0 0h1m0 0h1m1 0h1m1 0h1m0 0h1m0 0h1m0 0h1m0 0h1m-27 1h1m0 0h1m1 0h1m2 0h1m1 0h1m0 0h1m0 0h1m0 0h1m0 0h1m0 0h1m0 0h1m0 0h1m0 0h1m0 0h1m1 0h1m0 0h1m2 0h1m0 0h1m0 0h1m-29 1h1m6 0h1m0 0h1m0 0h1m1 0h1m0 0h1m0 0h1m1 0h1m0 0h1m0 0h1m0 0h1m0 0h1m0 0h1m0 0h1m0 0h1m0 0h1m0 0h1m0 0h1m2 0h1m-32 1h1m6 0h1m3 0h1m0 0h1m0 0h1m0 0h1m0 0h1m0 0h1m1 0h1m0 0h1m1 0h1m0 0h1m0 0h1m0 0h1m0 0h1m1 0h1m0 0h1m1 0h1m0 0h1m-27 1h1m2 0h1m0 0h1m0 0h1m0 0h1m0 0h1m0 0h1m0 0h1m0 0h1m0 0h1m0 0h1m0 0h1m0 0h1m0 0h1m0 0h1m0 0h1m0 0h1m0 0h1m0 0h1m0 0h1m0 0h1m6 0h1m-28 1h1m0 0h1m0 0h1m0 0h1m0 0h1m0 0h1m0 0h1m0 0h1m0 0h1m0 0h1m0 0h1m0 0h1m0 0h1m1 0h1m0 0h1m0 0h1m0 0h1m0 0h1m0 0h1m0 0h1m1 0h1m1 0h1m0 0h1m-25 1h1m1 0h1m0 0h1m0 0h1m1 0h1m0 0h1m0 0h1m0 0h1m0 0h1m0 0h1m0 0h1m0 0h1m0 0h1m1 0h1m0 0h1m0 0h1m0 0h1m1 0h1m0 0h1m-24 1h1m2 0h1m0 0h1m0 0h1m0 0h1m0 0h1m0 0h1m0 0h1m0 0h1m0 0h1m0 0h1m0 0h1m0 0h1m0 0h1m0 0h1m0 0h1m0 0h1m0 0h1m0 0h1m0 0h1m5 0h1m-27 1h1m0 0h1m1 0h1m0 0h1m0 0h1m0 0h1m0 0h1m0 0h1m0 0h1m0 0h1m0 0h1m0 0h1m0 0h1m0 0h1m0 0h1m0 0h1m0 0h1m0 0h1m0 0h1m0 0h1m-22 1h1m0 0h1m0 0h1m0 0h1m0 0h1m0 0h1m0 0h1m0 0h1m0 0h1m0 0h1m0 0h1m1 0h1m0 0h1m0 0h1m0 0h1m0 0h1m0 0h1m0 0h1m0 0h1m0 0h1m0 0h1m0 0h1m2 0h1m-29 1h1m2 0h1m3 0h1m0 0h1m0 0h1m0 0h1m0 0h1m0 0h1m0 0h1m0 0h1m0 0h1m0 0h1m0 0h1m0 0h1m0 0h1m0 0h1m0 0h1m0 0h1m0 0h1m0 0h1m0 0h1m0 0h1m-28 1h1m1 0h1m0 0h1m1 0h1m0 0h1m0 0h1m0 0h1m0 0h1m0 0h1m0 0h1m0 0h1m0 0h1m1 0h1m0 0h1m0 0h1m0 0h1m0 0h1m0 0h1m0 0h1m0 0h1m0 0h1m0 0h1m0 0h1m0 0h1m-29 1h1m4 0h1m0 0h1m2 0h1m0 0h1m0 0h1m0 0h1m0 0h1m0 0h1m0 0h1m0 0h1m0 0h1m0 0h1m0 0h1m0 0h1m0 0h1m0 0h1m0 0h1m0 0h1m0 0h1m0 0h1m0 0h1m0 0h1m1 0h1m1 0h1m0 0h1m-32 1h1m1 0h1m1 0h1m0 0h1m0 0h1m1 0h1m1 0h1m0 0h1m0 0h1m0 0h1m0 0h1m0 0h1m0 0h1m0 0h1m0 0h1m0 0h1m0 0h1m0 0h1m0 0h1m0 0h1m0 0h1m1 0h1m0 0h1m-26 1h1m0 0h1m3 0h1m0 0h1m0 0h1m0 0h1m0 0h1m0 0h1m0 0h1m0 0h1m0 0h1m0 0h1m0 0h1m0 0h1m0 0h1m0 0h1m0 0h1m0 0h1m0 0h1m0 0h1m0 0h1m0 0h1m0 0h1m1 0h1m-28 1h1m0 0h1m2 0h1m0 0h1m0 0h1m0 0h1m0 0h1m0 0h1m0 0h1m0 0h1m0 0h1m0 0h1m0 0h1m0 0h1m0 0h1m0 0h1m0 0h1m0 0h1m0 0h1m0 0h1m0 0h1m0 0h1m0 0h1m0 0h1m0 0h1m0 0h1m0 0h1m-27 1h1m1 0h1m0 0h1m0 0h1m0 0h1m0 0h1m1 0h1m0 0h1m0 0h1m0 0h1m0 0h1m0 0h1m0 0h1m0 0h1m0 0h1m0 0h1m0 0h1m0 0h1m0 0h1m0 0h1m0 0h1m1 0h1m0 0h1m5 0h1m-33 1h1m1 0h1m1 0h1m0 0h1m0 0h1m0 0h1m0 0h1m0 0h1m0 0h1m0 0h1m0 0h1m0 0h1m0 0h1m0 0h1m0 0h1m0 0h1m0 0h1m0 0h1m0 0h1m0 0h1m0 0h1m1 0h1m0 0h1m4 0h1m-33 1h1m1 0h1m3 0h1m1 0h1m0 0h1m0 0h1m0 0h1m0 0h1m0 0h1m0 0h1m0 0h1m0 0h1m0 0h1m0 0h1m0 0h1m0 0h1m0 0h1m0 0h1m0 0h1m0 0h1m0 0h1m0 0h1m0 0h1m-25 1h1m0 0h1m0 0h1m0 0h1m0 0h1m0 0h1m0 0h1m0 0h1m0 0h1m0 0h1m0 0h1m1 0h1m0 0h1m0 0h1m0 0h1m0 0h1m0 0h1m0 0h1m0 0h1m0 0h1m0 0h1m1 0h1m0 0h1m0 0h1m0 0h1m-28 1h1m0 0h1m1 0h1m0 0h1m0 0h1m0 0h1m0 0h1m0 0h1m0 0h1m0 0h1m0 0h1m0 0h1m0 0h1m0 0h1m0 0h1m0 0h1m0 0h1m0 0h1m0 0h1m0 0h1m0 0h1m0 0h1m0 0h1m0 0h1m0 0h1m0 0h1m1 0h1m0 0h1m-28 1h1m0 0h1m0 0h1m0 0h1m0 0h1m0 0h1m0 0h1m0 0h1m0 0h1m0 0h1m0 0h1m0 0h1m0 0h1m0 0h1m0 0h1m0 0h1m0 0h1m0 0h1m0 0h1m0 0h1m0 0h1m0 0h1m3 0h1m0 0h1m0 0h1m8 0h1m-42 1h1m2 0h1m1 0h1m0 0h1m0 0h1m0 0h1m0 0h1m0 0h1m0 0h1m0 0h1m0 0h1m0 0h1m0 0h1m0 0h1m0 0h1m0 0h1m0 0h1m0 0h1m0 0h1m0 0h1m0 0h1m0 0h1m0 0h1m0 0h1m0 0h1m2 0h1m1 0h1m7 0h1m-41 1h1m1 0h1m2 0h1m0 0h1m0 0h1m0 0h1m0 0h1m1 0h1m0 0h1m0 0h1m0 0h1m0 0h1m0 0h1m0 0h1m0 0h1m0 0h1m0 0h1m0 0h1m0 0h1m0 0h1m0 0h1m0 0h1m0 0h1m0 0h1m0 0h1m-28 1h1m1 0h1m1 0h1m0 0h1m1 0h1m0 0h1m0 0h1m0 0h1m0 0h1m0 0h1m0 0h1m0 0h1m0 0h1m0 0h1m0 0h1m0 0h1m0 0h1m0 0h1m0 0h1m0 0h1m0 0h1m0 0h1m0 0h1m0 0h1m0 0h1m1 0h1m-29 1h1m0 0h1m4 0h1m1 0h1m0 0h1m0 0h1m0 0h1m0 0h1m0 0h1m0 0h1m0 0h1m0 0h1m0 0h1m0 0h1m0 0h1m0 0h1m0 0h1m0 0h1m0 0h1m0 0h1m0 0h1m0 0h1m0 0h1m1 0h1m3 0h1m-31 1h1m1 0h1m0 0h1m0 0h1m0 0h1m0 0h1m0 0h1m0 0h1m0 0h1m0 0h1m0 0h1m0 0h1m0 0h1m0 0h1m0 0h1m0 0h1m0 0h1m0 0h1m0 0h1m0 0h1m0 0h1m0 0h1m4 0h1m1 0h1m-32 1h1m1 0h1m0 0h1m0 0h1m0 0h1m2 0h1m0 0h1m0 0h1m0 0h1m0 0h1m0 0h1m0 0h1m0 0h1m0 0h1m0 0h1m0 0h1m0 0h1m0 0h1m0 0h1m0 0h1m0 0h1m0 0h1m0 0h1m0 0h1m7 0h1m-42 1h1m7 0h1m1 0h1m0 0h1m0 0h1m0 0h1m0 0h1m0 0h1m0 0h1m0 0h1m0 0h1m0 0h1m0 0h1m0 0h1m0 0h1m0 0h1m0 0h1m0 0h1m0 0h1m0 0h1m0 0h1m0 0h1m0 0h1m0 0h1m1 0h1m3 0h1m1 0h1m2 0h1m-39 1h1m4 0h1m0 0h1m0 0h1m0 0h1m1 0h1m0 0h1m0 0h1m0 0h1m0 0h1m0 0h1m0 0h1m0 0h1m0 0h1m0 0h1m0 0h1m0 0h1m0 0h1m0 0h1m0 0h1m0 0h1m0 0h1m0 0h1m6 0h1m0 0h1m1 0h1m-35 1h1m0 0h1m0 0h1m1 0h1m0 0h1m0 0h1m0 0h1m0 0h1m0 0h1m0 0h1m0 0h1m0 0h1m0 0h1m0 0h1m0 0h1m0 0h1m0 0h1m0 0h1m0 0h1m0 0h1m0 0h1m0 0h1m0 0h1m0 0h1m0 0h1m2 0h1m0 0h1m4 0h1m-40 1h1m1 0h1m2 0h1m1 0h1m0 0h1m0 0h1m0 0h1m0 0h1m0 0h1m0 0h1m0 0h1m0 0h1m0 0h1m0 0h1m0 0h1m0 0h1m0 0h1m0 0h1m0 0h1m0 0h1m1 0h1m0 0h1m0 0h1m0 0h1m0 0h1m0 0h1m2 0h1m-30 1h1m1 0h1m3 0h1m0 0h1m0 0h1m0 0h1m0 0h1m0 0h1m0 0h1m0 0h1m0 0h1m0 0h1m0 0h1m0 0h1m0 0h1m0 0h1m0 0h1m0 0h1m0 0h1m0 0h1m0 0h1m0 0h1m0 0h1m5 0h1m0 0h1m2 0h1m1 0h1m-42 1h1m6 0h1m2 0h1m0 0h1m0 0h1m0 0h1m0 0h1m0 0h1m0 0h1m0 0h1m0 0h1m0 0h1m1 0h1m0 0h1m0 0h1m0 0h1m0 0h1m0 0h1m0 0h1m0 0h1m1 0h1m3 0h1m-29 1h1m2 0h1m0 0h1m0 0h1m0 0h1m0 0h1m0 0h1m0 0h1m0 0h1m0 0h1m1 0h1m0 0h1m0 0h1m0 0h1m1 0h1m0 0h1m0 0h1m0 0h1m0 0h1m3 0h1m8 0h1m-47 1h1m2 0h1m4 0h1m1 0h1m0 0h1m1 0h1m0 0h1m0 0h1m0 0h1m0 0h1m0 0h1m0 0h1m0 0h1m0 0h1m1 0h1m0 0h1m0 0h1m0 0h1m0 0h1m0 0h1m0 0h1m0 0h1m0 0h1m0 0h1m0 0h1m0 0h1m0 0h1m3 0h1m0 0h1m0 0h1m-37 1h1m0 0h1m4 0h1m1 0h1m0 0h1m0 0h1m0 0h1m0 0h1m1 0h1m1 0h1m0 0h1m0 0h1m0 0h1m0 0h1m0 0h1m0 0h1m1 0h1m0 0h1m0 0h1m0 0h1m0 0h1m1 0h1m0 0h1m3 0h1m2 0h1m2 0h1m-47 1h1m5 0h1m3 0h1m0 0h1m0 0h1m0 0h1m0 0h1m0 0h1m0 0h1m0 0h1m0 0h1m0 0h1m0 0h1m0 0h1m0 0h1m0 0h1m0 0h1m0 0h1m0 0h1m0 0h1m0 0h1m0 0h1m0 0h1m0 0h1m0 0h1m0 0h1m0 0h1m1 0h1m1 0h1m1 0h1m1 0h1m-30 1h1m0 0h1m0 0h1m0 0h1m0 0h1m1 0h1m0 0h1m0 0h1m0 0h1m0 0h1m0 0h1m0 0h1m1 0h1m0 0h1m0 0h1m0 0h1m0 0h1m1 0h1m2 0h1m1 0h1m4 0h1m3 0h1m-40 1h1m0 0h1m5 0h1m0 0h1m0 0h1m0 0h1m0 0h1m0 0h1m0 0h1m0 0h1m1 0h1m0 0h1m0 0h1m1 0h1m0 0h1m0 0h1m0 0h1m0 0h1m0 0h1m0 0h1m0 0h1m0 0h1m0 0h1m6 0h1m-35 1h1m2 0h1m0 0h1m0 0h1m0 0h1m0 0h1m1 0h1m0 0h1m0 0h1m0 0h1m0 0h1m0 0h1m0 0h1m0 0h1m0 0h1m0 0h1m0 0h1m0 0h1m0 0h1m0 0h1m0 0h1m0 0h1m1 0h1m-24 1h1m2 0h1m0 0h1m0 0h1m0 0h1m0 0h1m0 0h1m0 0h1m1 0h1m0 0h1m0 0h1m0 0h1m0 0h1m0 0h1m0 0h1m0 0h1m0 0h1m0 0h1m1 0h1m3 0h1m-29 1h1m2 0h1m0 0h1m3 0h1m0 0h1m0 0h1m0 0h1m0 0h1m1 0h1m1 0h1m1 0h1m0 0h1m0 0h1m0 0h1m2 0h1m4 0h1m3 0h1m-46 1h1m13 0h1m0 0h1m1 0h1m0 0h1m0 0h1m0 0h1m2 0h1m0 0h1m1 0h1m2 0h1m1 0h1m1 0h1m0 0h1m0 0h1m0 0h1m0 0h1m2 0h1m0 0h1m-26 1h1m0 0h1m0 0h1m0 0h1m1 0h1m3 0h1m0 0h1m0 0h1m0 0h1m0 0h1m0 0h1m1 0h1m0 0h1m0 0h1m0 0h1m0 0h1m0 0h1m0 0h1m-38 1h1m14 0h1m1 0h1m0 0h1m0 0h1m0 0h1m1 0h1m0 0h1m0 0h1m0 0h1m0 0h1m0 0h1m0 0h1m0 0h1m1 0h1m0 0h1m0 0h1m1 0h1m0 0h1m2 0h1m0 0h1m-27 1h1m0 0h1m5 0h1m1 0h1m1 0h1m1 0h1m0 0h1m0 0h1m0 0h1m0 0h1m0 0h1m0 0h1m0 0h1m0 0h1m3 0h1m-25 1h1m3 0h1m0 0h1m1 0h1m1 0h1m1 0h1m0 0h1m0 0h1m0 0h1m0 0h1m3 0h1m0 0h1m0 0h1m0 0h1m0 0h1m0 0h1m4 0h1m-26 1h1m0 0h1m1 0h1m1 0h1m2 0h1m0 0h1m0 0h1m0 0h1m0 0h1m2 0h1m0 0h1m0 0h1m1 0h1m0 0h1m0 0h1m0 0h1m0 0h1m-23 1h1m1 0h1m1 0h1m1 0h1m0 0h1m1 0h1m1 0h1m2 0h1m0 0h1m0 0h1m2 0h1m0 0h1m7 0h1m1 0h1m-34 1h1m5 0h1m1 0h1m0 0h1m2 0h1m1 0h1m0 0h1m0 0h1m1 0h1m0 0h1m0 0h1m1 0h1m0 0h1m-22 1h1m1 0h1m3 0h1m3 0h1m0 0h1m0 0h1m0 0h1m3 0h1m1 0h1m0 0h1m1 0h1m1 0h1m-24 1h1m3 0h1m0 0h1m0 0h1m1 0h1m1 0h1m3 0h1m0 0h1m0 0h1m4 0h1m1 0h1m-26 1h1m4 0h1m0 0h1m1 0h1m0 0h1m1 0h1m0 0h1m2 0h1m4 0h1m3 0h1m4 0h1m-29 1h1m3 0h1m4 0h1m1 0h1m3 0h1m0 0h1m1 0h1m3 0h1m8 0h1m-35 1h1m2 0h1m0 0h1m0 0h1m2 0h1m0 0h1m2 0h1m0 0h1m0 0h1m1 0h1m0 0h1m5 0h1m5 0h1m-30 1h1m6 0h1m2 0h1m1 0h1m7 0h1m8 0h1m-15 1h1m-12 1h1m10 0h1m1 0h1m7 0h1m-23 1h1m4 0h1m4 0h1m4 0h1m0 0h1m-4 1h1m7 0h1m-5 1h1m5 0h1" stroke="#ff1c1c"/>
<path d="M102 276h1m8 3h1m-11 2h1m11 1h1m-4 2h1m6 1h1m-19 1h1m3 1h1m-1 2h1m8 0h1m-7 1h1m1 1h1m2 0h1m-11 1h1m6 0h1m-6 1h1m2 0h1m4 0h1m0 0h1m-6 1h1m-12 1h1m8 0h1m5 0h1m-12 1h1m1 0h1m0 0h1m20 1h1m-18 1h1m1 0h1m-13 1h1m8 0h1m3 0h1m10 0h1m-21 1h1m4 0h1m12 0h1m4 0h1m-31 1h1m23 0h1m13 0h1m-28 1h1m8 0h1m1 0h1m7 0h1m5 0h1m9 0h1m-40 1h1m1 0h1m1 0h1m0 1h1m0 0h1m6 0h1m7 0h1m5 0h1m1 0h1m-30 1h1m1 0h1m4 0h1m1 0h1m8 0h1m3 0h1m-40 1h1m13 0h1m1 0h1m7 0h1m5 0h1m18 0h1m-38 1h1m8 0h1m1 0h1m2 0h1m0 0h1m7 0h1m16 0h1m-49 1h1m9 0h1m3 0h1m3 0h1m1 0h1m0 0h1m2 0h1m0 0h1m0 0h1m5 0h1m1 0h1m1 0h1m4 0h1m-42 1h1m8 0h1m0 0h1m1 0h1m1 0h1m0 0h1m2 0h1m0 0h1m0 0h1m2 0h1m4 0h1m0 0h1m2 0h1m1 0h1m0 0h1m1 0h1m1 0h1m-34 1h1m0 0h1m0 0h1m0 0h1m1 0h1m4 0h1m0 0h1m0 0h1m0 0h1m1 0h1m0 0h1m4 0h1m1 0h1m0 0h1m0 0h1m6 0h1m-39 1h1m2 0h1m5 0h1m1 0h1m0 0h1m0 0h1m0 0h1m0 0h1m0 0h1m0 0h1m0 0h1m0 0h1m0 0h1m0 0h1m0 0h1m1 0h1m4 0h1m8 0h1m-48 1h1m7 0h1m0 0h1m0 0h1m1 0h1m0 0h1m3 0h1m0 0h1m1 0h1m0 0h1m0 0h1m0 0h1m0 0h1m0 0h1m0 0h1m0 0h1m0 0h1m1 0h1m2 0h1m0 0h1m0 0h1m0 0h1m0 0h1m1 0h1m1 0h1m1 0h1m10 0h1m-49 1h1m0 0h1m1 0h1m1 0h1m7 0h1m0 0h1m0 0h1m0 0h1m0 0h1m0 0h1m0 0h1m0 0h1m0 0h1m1 0h1m0 0h1m0 0h1m1 0h1m0 0h1m0 0h1m2 0h1m1 0h1m1 0h1m6 0h1m-41 1h1m2 0h1m2 0h1m0 0h1m0 0h1m0 0h1m0 0h1m0 0h1m0 0h1m0 0h1m1 0h1m0 0h1m0 0h1m0 0h1m0 0h1m0 0h1m0 0h1m0 0h1m0 0h1m0 0h1m0 0h1m0 0h1m2 0h1m1 0h1m1 0h1m6 0h1m-46 1h1m3 0h1m3 0h1m1 0h1m2 0h1m3 0h1m0 0h1m0 0h1m0 0h1m0 0h1m0 0h1m1 0h1m0 0h1m0 0h1m0 0h1m0 0h1m0 0h1m0 0h1m0 0h1m0 0h1m1 0h1m1 0h1m4 0h1m3 0h1m-48 1h1m8 0h1m0 0h1m1 0h1m0 0h1m0 0h1m0 0h1m1 0h1m0 0h1m0 0h1m0 0h1m0 0h1m0 0h1m0 0h1m0 0h1m0 0h1m0 0h1m0 0h1m0 0h1m0 0h1m0 0h1m0 0h1m1 0h1m0 0h1m0 0h1m1 0h1m1 0h1m2 0h1m2 0h1m3 0h1m-60 1h1m12 0h1m2 0h1m2 0h1m0 0h1m2 0h1m0 0h1m0 0h1m0 0h1m0 0h1m0 0h1m0 0h1m0 0h1m0 0h1m0 0h1m0 0h1m0 0h1m0 0h1m0 0h1m0 0h1m0 0h1m0 0h1m0 0h1m1 0h1m0 0h1m1 0h1m2 0h1m0 0h1m1 0h1m1 0h1m-48 1h1m3 0h1m0 0h1m3 0h1m3 0h1m1 0h1m1 0h1m0 0h1m0 0h1m0 0h1m0 0h1m0 0h1m0 0h1m0 0h1m0 0h1m0 0h1m0 0h1m0 0h1m0 0h1m0 0h1m1 0h1m0 0h1m0 0h1m0 0h1m0 0h1m0 0h1m0 0h1m7 0h1m1 0h1m1 0h1m-49 1h1m4 0h1m0 0h1m1 0h1m0 0h1m0 0h1m0 0h1m0 0h1m0 0h1m0 0h1m0 0h1m0 0h1m0 0h1m0 0h1m0 0h1m0 0h1m0 0h1m0 0h1m0 0h1m0 0h1m0 0h1m0 0h1m0 0h1m1 0h1m1 0h1m0 0h1m0 0h1m0 0h1m1 0h1m1 0h1m0 0h1m2 0h1m9 0h1m-51 1h1m3 0h1m0 0h1m1 0h1m2 0h1m2 0h1m0 0h1m0 0h1m0 0h1m0 0h1m0 0h1m0 0h1m1 0h1m0 0h1m0 0h1m1 0h1m0 0h1m0 0h1m0 0h1m0 0h1m1 0h1m1 0h1m1 0h1m1 0h1m1 0h1m-38 1h1m4 0h1m0 0h1m0 0h1m0 0h1m0 0h1m0 0h1m1 0h1m0 0h1m0 0h1m0 0h1m0 0h1m1 0h1m0 0h1m0 0h1m0 0h1m0 0h1m0 0h1m0 0h1m0 0h1m0 0h1m0 0h1m0 0h1m2 0h1m7 0h1m-40 1h1m3 0h1m0 0h1m3 0h1m0 0h1m0 0h1m0 0h1m0 0h1m0 0h1m1 0h1m1 0h1m0 0h1m1 0h1m0 0h1m0 0h1m0 0h1m0 0h1m1 0h1m0 0h1m1 0h1m0 0h1m0 0h1m-36 1h1m0 0h1m1 0h1m1 0h1m1 0h1m3 0h1m3 0h1m2 0h1m1 0h1m0 0h1m0 0h1m2 0h1m1 0h1m0 0h1m0 0h1m0 0h1m0 0h1m2 0h1m0 0h1m0 0h1m3 0h1m0 0h1m0 0h1m-46 1h1m2 0h1m1 0h1m0 0h1m0 0h1m0 0h1m4 0h1m1 0h1m1 0h1m0 0h1m1 0h1m0 0h1m0 0h1m0 0h1m4 0h1m0 0h1m0 0h1m0 0h1m3 0h1m0 0h1m0 0h1m4 0h1m0 0h1m-44 1h1m2 0h1m1 0h1m1 0h1m0 0h1m0 0h1m5 0h1m1 0h1m2 0h1m0 0h1m7 0h1m2 0h1m1 0h1m7 0h1m-40 1h1m4 0h1m1 0h1m8 0h1m4 0h1m7 0h1m1 0h1m2 0h1m11 0h1m-49 1h1m8 0h1m0 0h1m0 0h1m22 0h1m4 0h1m-36 1h1m-1 1h1m-12 1h1m-1 2h1m6 1h1m1 4h1m15 1h1" stroke="#22c8ec"/>
<path d="M99 315h1m6 0h1m-14 3h1m14 0h1m-2 1h1m1 0h1m-20 1h1m2 0h1m7 0h1m3 0h1m5 0h1m-25 1h1m6 0h1m5 0h1m-23 1h1m3 0h1m2 0h1m3 0h1m0 0h1m0 0h1m6 0h1m1 0h1m2 0h1m5 0h1m19 0h1m-46 1h1m4 0h1m2 0h1m0 0h1m0 0h1m1 0h1m0 0h1m1 0h1m3 0h1m0 0h1m1 0h1m5 0h1m0 0h1m3 0h1m-32 1h1m0 0h1m0 0h1m0 0h1m1 0h1m4 0h1m4 0h1m0 0h1m0 0h1m0 0h1m5 0h1m4 0h1m2 0h1m2 0h1m-41 1h1m1 0h1m4 0h1m2 0h1m1 0h1m1 0h1m0 0h1m2 0h1m0 0h1m0 0h1m0 0h1m0 0h1m0 0h1m0 0h1m1 0h1m2 0h1m1 0h1m1 0h1m6 0h1m-46 1h1m2 0h1m3 0h1m0 0h1m4 0h1m0 0h1m0 0h1m1 0h1m0 0h1m0 0h1m1 0h1m0 0h1m0 0h1m0 0h1m1 0h1m0 0h1m1 0h1m0 0h1m0 0h1m0 0h1m1 0h1m1 0h1m4 0h1m1 0h1m-45 1h1m3 0h1m0 0h1m0 0h1m0 0h1m0 0h1m2 0h1m3 0h1m0 0h1m0 0h1m0 0h1m0 0h1m0 0h1m0 0h1m0 0h1m0 0h1m0 0h1m0 0h1m0 0h1m0 0h1m0 0h1m0 0h1m0 0h1m0 0h1m0 0h1m0 0h1m1 0h1m0 0h1m1 0h1m0 0h1m0 0h1m3 0h1m3 0h1m2 0h1m0 0h1m-50 1h1m0 0h1m0 0h1m4 0h1m0 0h1m2 0h1m0 0h1m0 0h1m0 0h1m0 0h1m0 0h1m0 0h1m0 0h1m0 0h1m0 0h1m0 0h1m0 0h1m0 0h1m0 0h1m0 0h1m0 0h1m0 0h1m0 0h1m1 0h1m0 0h1m0 0h1m0 0h1m0 0h1m6 0h1m2 0h1m15 0h1m-62 1h1m0 0h1m1 0h1m2 0h1m0 0h1m0 0h1m0 0h1m0 0h1m0 0h1m0 0h1m0 0h1m0 0h1m0 0h1m0 0h1m0 0h1m1 0h1m0 0h1m0 0h1m1 0h1m0 0h1m0 0h1m0 0h1m0 0h1m0 0h1m0 0h1m0 0h1m0 0h1m0 0h1m0 0h1m0 0h1m2 0h1m0 0h1m1 0h1m3 0h1m0 0h1m7 0h1m-55 1h1m0 0h1m1 0h1m0 0h1m0 0h1m1 0h1m0 0h1m0 0h1m0 0h1m0 0h1m0 0h1m0 0h1m1 0h1m1 0h1m0 0h1m0 0h1m0 0h1m0 0h1m1 0h1m0 0h1m2 0h1m0 0h1m2 0h1m2 0h1m1 0h1m0 0h1m0 0h1m1 0h1m3 0h1m13 0h1m-55 1h1m0 0h1m0 0h1m0 0h1m0 0h1m1 0h1m0 0h1m0 0h1m0 0h1m1 0h1m1 0h1m1 0h1m0 0h1m0 0h1m0 0h1m0 0h1m1 0h1m0 0h1m0 0h1m0 0h1m0 0h1m0 0h1m0 0h1m0 0h1m0 0h1m1 0h1m1 0h1m0 0h1m0 0h1m0 0h1m1 0h1m0 0h1m0 0h1m0 0h1m0 0h1m10 0h1m-62 1h1m2 0h1m1 0h1m5 0h1m0 0h1m0 0h1m1 0h1m0 0h1m0 0h1m0 0h1m0 0h1m1 0h1m2 0h1m0 0h1m6 0h1m0 0h1m0 0h1m0 0h1m1 0h1m1 0h1m1 0h1m0 0h1m0 0h1m0 0h1m0 0h1m1 0h1m4 0h1m2 0h1m-53 1h1m3 0h1m0 0h1m0 0h1m2 0h1m0 0h1m0 0h1m0 0h1m0 0h1m0 0h1m0 0h1m0 0h1m0 0h1m0 0h1m0 0h1m0 0h1m4 0h1m0 0h1m0 0h1m2 0h1m1 0h1m0 0h1m3 0h1m1 0h1m0 0h1m0 0h1m0 0h1m0 0h1m0 0h1m8 0h1m1 0h1m-52 1h1m0 0h1m0 0h1m0 0h1m3 0h1m0 0h1m2 0h1m0 0h1m0 0h1m0 0h1m1 0h1m0 0h1m0 0h1m0 0h1m0 0h1m0 0h1m3 0h1m3 0h1m1 0h1m3 0h1m1 0h1m3 0h1m-37 1h1m1 0h1m3 0h1m1 0h1m0 0h1m1 0h1m2 0h1m1 0h1m1 0h1m1 0h1m0 0h1m3 0h1m1 0h1m1 0h1m2 0h1m0 0h1m0 0h1m1 0h1m-47 1h1m0 0h1m9 0h1m0 0h1m0 0h1m0 0h1m0 0h1m0 0h1m0 0h1m0 0h1m0 0h1m1 0h1m0 0h1m0 0h1m0 0h1m0 0h1m0 0h1m1 0h1m0 0h1m0 0h1m0 0h1m1 0h1m1 0h1m1 0h1m4 0h1m0 0h1m1 0h1m1 0h1m-36 1h1m0 0h1m0 0h1m0 0h1m0 0h1m1 0h1m0 0h1m0 0h1m0 0h1m0 0h1m1 0h1m0 0h1m1 0h1m0 0h1m0 0h1m2 0h1m3 0h1m3 0h1m3 0h1m-39 1h1m0 0h1m1 0h1m0 0h1m0 0h1m1 0h1m2 0h1m0 0h1m0 0h1m1 0h1m0 0h1m3 0h1m0 0h1m2 0h1m5 0h1m0 0h1m3 0h1m0 0h1m4 0h1m-38 1h1m2 0h1m0 0h1m0 0h1m0 0h1m3 0h1m0 0h1m0 0h1m6 0h1m0 0h1m11 0h1m-42 1h1m11 0h1m0 0h1m3 0h1m0 0h1m0 0h1m3 0h1m0 0h1m0 0h1m0 0h1m2 0h1m19 0h1m-38 1h1m0 0h1m5 0h1m3 0h1m11 0h1m-19 1h1m-4 1h1m10 0h1m11 0h1m7 0h1m-22 1h1" stroke="#2448e0"/>
<path d="M88 326h1m15 0h1m15 1h1m-14 1h1m17 0h1m-31 1h1m3 0h1m12 0h1m-23 1h1m1 0h1m5 0h1m2 0h1m0 0h1m2 0h1m0 0h1m1 0h1m0 0h1m1 0h1m3 0h1m-26 1h1m1 0h1m1 0h1m5 0h1m9 0h1m-25 1h1m5 0h1m1 0h1m0 0h1m2 0h1m0 0h1m0 0h1m0 0h1m0 0h1m0 0h1m4 0h1m1 0h1m-15 1h1m0 0h1m0 0h1m0 0h1m3 0h1m0 0h1m1 0h1m2 0h1m0 0h1m0 0h1m1 0h1m7 0h1m-34 1h1m0 0h1m4 0h1m6 0h1m0 0h1m0 0h1m1 0h1m0 0h1m0 0h1m4 0h1m4 0h1m0 0h1m-31 1h1m0 0h1m1 0h1m2 0h1m1 0h1m0 0h1m1 0h1m1 0h1m1 0h1m2 0h1m0 0h1m0 0h1m1 0h1m1 0h1m1 0h1m-14 1h1m4 0h1m1 0h1m1 0h1m2 0h1m0 0h1m-33 1h1m21 0h1m2 0h1m1 0h1m5 0h1m-34 1h1m19 0h1m1 0h1m0 0h1m0 0h1m0 0h1m0 0h1m2 0h1m-28 1h1m15 0h1m0 0h1m2 0h1m4 0h1m-5 1h1m1 1h1m0 0h1m7 0h1m-22 1h1m7 1h1" stroke="#1418a8"/>
<path d="M130 331h1m-8 1h1m5 0h1m3 1h1m0 0h1m3 0h1m2 0h1m-14 1h1m2 0h1m0 0h1m0 0h1m6 0h1m-14 1h1m0 0h1m0 0h1m3 0h1m0 0h1m0 0h1m1 0h1m0 0h1m0 0h1m0 0h1m1 0h1m1 0h1m8 0h1m-30 1h1m2 0h1m0 0h1m0 0h1m0 0h1m0 0h1m0 0h1m0 0h1m0 0h1m0 0h1m0 0h1m0 0h1m0 0h1m0 0h1m0 0h1m1 0h1m0 0h1m9 0h1m-31 1h1m3 0h1m0 0h1m0 0h1m0 0h1m0 0h1m0 0h1m0 0h1m0 0h1m0 0h1m0 0h1m0 0h1m0 0h1m0 0h1m0 0h1m0 0h1m0 0h1m0 0h1m1 0h1m6 0h1m-30 1h1m1 0h1m0 0h1m0 0h1m0 0h1m0 0h1m0 0h1m0 0h1m0 0h1m0 0h1m0 0h1m0 0h1m0 0h1m0 0h1m0 0h1m0 0h1m0 0h1m0 0h1m0 0h1m1 0h1m0 0h1m-26 1h1m0 0h1m0 0h1m0 0h1m0 0h1m0 0h1m0 0h1m0 0h1m0 0h1m0 0h1m0 0h1m0 0h1m0 0h1m0 0h1m0 0h1m0 0h1m0 0h1m0 0h1m0 0h1m0 0h1m0 0h1m0 0h1m0 0h1m1 0h1m-29 1h1m2 0h1m5 0h1m0 0h1m0 0h1m0 0h1m0 0h1m0 0h1m0 0h1m0 0h1m0 0h1m0 0h1m0 0h1m0 0h1m0 0h1m0 0h1m0 0h1m0 0h1m0 0h1m0 0h1m0 0h1m1 0h1m1 0h1m-27 1h1m5 0h1m0 0h1m1 0h1m0 0h1m0 0h1m0 0h1m0 0h1m0 0h1m0 0h1m0 0h1m0 0h1m0 0h1m0 0h1m1 0h1m0 0h1m0 0h1m-16 1h1m2 0h1m1 0h1m0 0h1m0 0h1m0 0h1m0 0h1m2 0h1m1 0h1m2 0h1m-18 1h1m0 0h1m1 0h1m0 0h1m1 0h1m0 0h1m1 0h1m-10 1h1m10 0h1m3 0h1m-18 1h1m6 0h1m0 0h1" stroke="#ee20ee"/>
</g>
<path d="M30.40 346.40v2.4M45.10 346.40v1.4M59.80 346.40v2.4M74.50 346.40v1.4M89.20 346.40v2.4M103.90 346.40v1.4M118.60 346.40v2.4M133.30 346.40v1.4M148.00 346.40v2.4M162.70 346.40v1.4M177.40 346.40v2.4M30.40 204.40h-3M30.40 209.56h-1.6M30.40 214.72h-1.6M30.40 219.88h-1.6M30.40 225.04h-1.6M30.40 230.20h-3M30.40 235.36h-1.6M30.40 240.52h-1.6M30.40 245.68h-1.6M30.40 250.84h-1.6M30.40 256.00h-3M30.40 261.16h-1.6M30.40 266.32h-1.6M30.40 271.48h-1.6M30.40 276.64h-1.6M30.40 281.80h-3M30.40 286.96h-1.6M30.40 292.12h-1.6M30.40 297.28h-1.6M30.40 302.44h-1.6M30.40 307.60h-3M30.40 312.76h-1.6M30.40 317.92h-1.6M30.40 323.08h-1.6M30.40 328.24h-1.6M30.40 333.40h-3M30.40 338.56h-1.6M30.40 343.72h-1.6" stroke="#333" stroke-width="0.7" fill="none"/>
<rect x="30.4" y="204.6" width="147.40" height="141.80" fill="none" stroke="#484848" stroke-width="1.15"/>
<text x="30.40" y="355" font-size="5.8" fill="#222" stroke="#222" stroke-width="0.2" text-anchor="middle">0</text>
<text x="59.80" y="355" font-size="5.8" fill="#222" stroke="#222" stroke-width="0.2" text-anchor="middle">0.2</text>
<text x="89.20" y="355" font-size="5.8" fill="#222" stroke="#222" stroke-width="0.2" text-anchor="middle">0.4</text>
<text x="118.60" y="355" font-size="5.8" fill="#222" stroke="#222" stroke-width="0.2" text-anchor="middle">0.6</text>
<text x="148.00" y="355" font-size="5.8" fill="#222" stroke="#222" stroke-width="0.2" text-anchor="middle">0.8</text>
<text x="177.40" y="355" font-size="5.8" fill="#222" stroke="#222" stroke-width="0.2" text-anchor="middle">1</text>
<text x="26.8" y="206.90" font-size="5.8" fill="#222" stroke="#222" stroke-width="0.2" text-anchor="end">1</text>
<text x="26.8" y="232.70" font-size="5.8" fill="#222" stroke="#222" stroke-width="0.2" text-anchor="end">0.9</text>
<text x="26.8" y="258.50" font-size="5.8" fill="#222" stroke="#222" stroke-width="0.2" text-anchor="end">0.8</text>
<text x="26.8" y="284.30" font-size="5.8" fill="#222" stroke="#222" stroke-width="0.2" text-anchor="end">0.7</text>
<text x="26.8" y="310.10" font-size="5.8" fill="#222" stroke="#222" stroke-width="0.2" text-anchor="end">0.6</text>
<text x="26.8" y="335.90" font-size="5.8" fill="#222" stroke="#222" stroke-width="0.2" text-anchor="end">0.5</text>
</svg></body></html>
